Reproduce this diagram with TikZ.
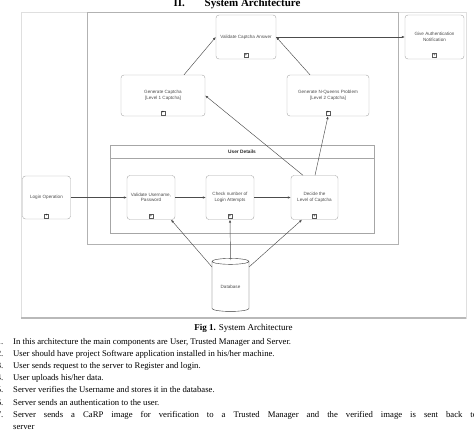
\documentclass[tikz,border=0pt]{standalone}
\usepackage{fontspec}
\setmainfont{Liberation Serif}
\setsansfont{Liberation Sans}
\usetikzlibrary{arrows.meta,shapes.geometric}

\tikzset{
  task/.style={draw=gray!70, rounded corners=3pt, minimum width=48pt, minimum height=44pt,
    align=center, inner sep=1pt, text=gray!60!black, font=\sffamily\fontsize{4.6}{5.6}\selectfont},
  plusbox/.style={draw=gray!70!black, minimum size=4pt, inner sep=0pt, font=\sffamily\fontsize{4}{4}\selectfont},
  flow/.style={draw=gray!60!black, line width=0.45pt, -{Latex[length=3pt,width=2.4pt]}},
  bodyline/.style={anchor=base west, inner sep=0pt, font=\fontsize{8.7}{10}\selectfont},
}

\begin{document}
\begin{tikzpicture}[x=1pt, y=-1pt]
            \useasboundingbox (0,0) rectangle (474,444);
            % frames of the screenshot
            \node[draw=gray!25, minimum width=445pt, minimum height=306pt, inner sep=0pt] (frame) at (243.5,165) {};
            \draw[gray!55, line width=1.5pt] (frame.south west) -- (frame.south east);
            \node[draw=gray!60, minimum width=311pt, minimum height=232pt, inner sep=0pt] (lane) at (242.5,128) {};
            \node[draw=gray!70, minimum width=264pt, minimum height=88pt, inner sep=0pt] (details) at (242,189) {};
            \draw[gray!70] ([yshift=-13pt]details.north west) -- ([yshift=-13pt]details.north east);
            \node[font=\sffamily\bfseries\fontsize{4.8}{5}\selectfont, text=gray!30!black] (detailstitle) at (242,151.5) {User Details};
            % tasks
            \node[task, minimum width=60pt] (vca) at (246,37) {Validate Captcha Answer};
            \node[task, minimum width=59pt] (gan) at (434.5,37) {Give Authentication\\Notification};
            \node[task, minimum width=84pt, minimum height=41pt] (gcap) at (163,95.5) {Generate Captcha\\{[Level 1 Captcha]}};
            \node[task, minimum width=82pt, minimum height=41pt] (nq) at (328,95.5) {Generate N-Queens Problem\\{[Level 2 Captcha]}};
            \node[task, minimum height=43pt] (login) at (46.5,197.5) {Login Operation};
            \node[task] (vu) at (151,197.5) {Validate Username,\\Password};
            \node[task] (chk) at (230,197.5) {Check number of\\Login Attempts};
            \node[task, minimum width=47pt] (dec) at (314.5,197.5) {Decide the\\Level of Captcha};
            \node[cylinder, shape border rotate=90, draw=gray!40!black, aspect=0.3, minimum width=37pt, minimum height=53pt,
              inner sep=0pt, text=gray!60!black, font=\sffamily\fontsize{4.6}{5.6}\selectfont] (db) at (230.5,286.5) {Database};
            \foreach \b in {vca,gan,gcap,nq,login,vu,chk,dec}
              \node[plusbox] (\b-plus) at ([yshift=3.5pt]\b.south) {+};
            % connectors
            \draw[flow] ([xshift=21pt]gcap.north) -- (vca.west);
            \draw[flow] ([xshift=-18pt]nq.north) -- (vca.east);
            \draw[flow] (vca.east) -- (gan.west);
            \draw[flow] ([xshift=-11.5pt]dec.north) -- (gcap.east);
            \draw[flow] ([xshift=0.5pt]dec.north) -- (nq.south);
            \draw[flow] (login) -- (vu);
            \draw[flow] (vu) -- (chk);
            \draw[flow] (chk) -- (dec);
            \draw[flow] ([xshift=-18.5pt,yshift=19.5pt]db.center) -- ([xshift=20pt]vu.south);
            \draw[flow] ([yshift=26.5pt]db.center) -- (chk.south);
            \draw[flow] ([xshift=18.5pt,yshift=19.5pt]db.center) -- ([xshift=-12.5pt]dec.south);
            % title, caption and text
            \node[anchor=base, inner sep=0pt, font=\bfseries\fontsize{11}{12}\selectfont] (title) at (237,6.5) {II.\hspace{1.8em}System Architecture};
            \node[anchor=base, inner sep=0pt, font=\fontsize{9}{10}\selectfont] (caption) at (243.5,330) {\textbf{Fig 1.} System Architecture};
            \foreach \t [count=\i] in {{In this architecture the main components are User, Trusted Manager and Server.},
                {User should have project Software application installed in his/her machine.},
                {User sends request to the server to Register and login.},
                {User uploads his/her data.},
                {Server verifies the Username and stores it in the database.},
                {Server sends an authentication to the user.}}
            {
              \node[bodyline] (line\i) at (13,{344.5+12.1*(\i-1)}) {\t};
              \node[bodyline, anchor=base east] (num\i) at (3.5,{344.5+12.1*(\i-1)}) {\i.};
            }
            \node[bodyline] (line7) at (13,417.1) {\makebox[464pt][s]{Server sends a CaRP image for verification to a Trusted Manager and the verified image is sent back to}};
            \node[bodyline, anchor=base east] (num7) at (3.5,417.1) {7.};
            \node[bodyline] (line8) at (13,429.2) {server};
        \end{tikzpicture}
\end{document}
